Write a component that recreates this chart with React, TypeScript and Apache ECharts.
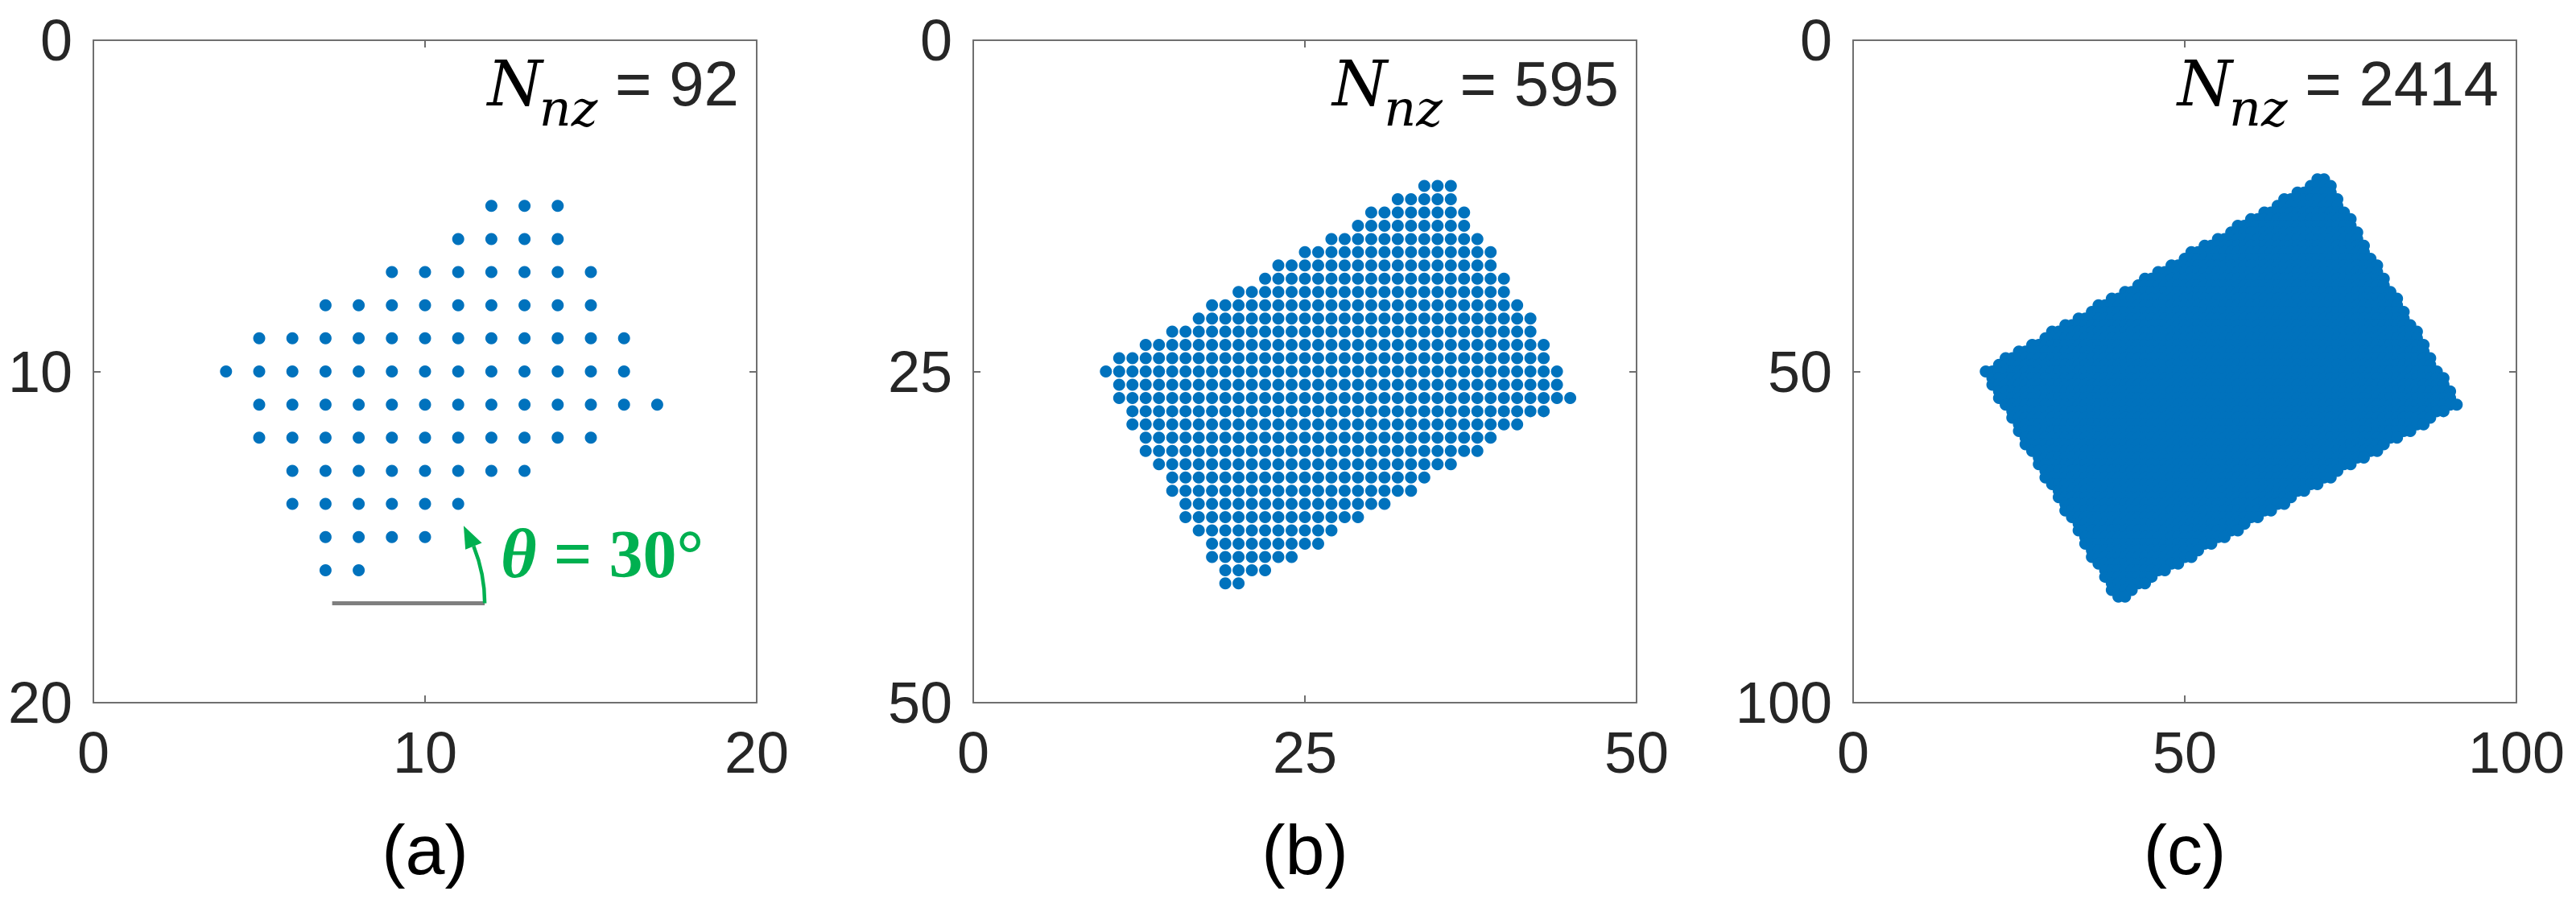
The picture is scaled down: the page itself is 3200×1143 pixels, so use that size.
import React, { useEffect, useRef } from 'react';
import * as echarts from 'echarts';

// ---------------- data ----------------
// Panel (a): rows of the 20x20 pattern and the first/last nonzero column in each row
const rowsA = [5, 6, 7, 8, 9, 10, 11, 12, 13, 14, 15, 16];
const startA = [12, 11, 9, 7, 5, 4, 5, 5, 6, 6, 7, 7];
const endA = [14, 14, 15, 15, 16, 16, 17, 15, 13, 11, 10, 8];

// Panel (b): 50x50 pattern
const rowsB = [11, 12, 13, 14, 15, 16, 17, 18, 19, 20, 21, 22, 23, 24, 25, 26, 27, 28, 29, 30, 31, 32, 33, 34, 35, 36, 37, 38, 39, 40, 41];
const startB = [34, 32, 30, 29, 27, 25, 23, 22, 20, 18, 17, 15, 13, 11, 10, 11, 11, 12, 12, 13, 13, 14, 15, 15, 16, 16, 17, 18, 18, 19, 19];
const endB = [36, 36, 37, 37, 38, 39, 39, 40, 40, 41, 42, 42, 43, 43, 44, 44, 45, 43, 41, 39, 38, 36, 34, 33, 31, 29, 27, 26, 24, 22, 20];

// Panel (c): 100x100 pattern
const rowsC = [21, 22, 23, 24, 25, 26, 27, 28, 29, 30, 31, 32, 33, 34, 35, 36, 37, 38, 39, 40, 41, 42, 43, 44, 45, 46, 47, 48, 49, 50, 51, 52, 53, 54, 55, 56, 57, 58, 59, 60, 61, 62, 63, 64, 65, 66, 67, 68, 69, 70, 71, 72, 73, 74, 75, 76, 77, 78, 79, 80, 81, 82, 83, 84];
const startC = [70, 69, 67, 65, 64, 62, 60, 58, 57, 55, 53, 51, 50, 48, 46, 44, 43, 41, 39, 37, 36, 34, 32, 30, 29, 27, 25, 23, 22, 20, 21, 21, 22, 22, 23, 24, 24, 25, 25, 26, 26, 27, 28, 28, 29, 29, 30, 31, 31, 32, 32, 33, 34, 34, 35, 35, 36, 36, 37, 38, 38, 39, 39, 40];
const endC = [71, 72, 72, 73, 73, 74, 75, 75, 76, 76, 77, 77, 78, 79, 79, 80, 80, 81, 82, 82, 83, 83, 84, 85, 85, 86, 86, 87, 87, 88, 89, 89, 90, 90, 91, 89, 87, 86, 84, 82, 80, 79, 77, 75, 73, 72, 70, 68, 66, 65, 63, 61, 59, 58, 56, 54, 52, 51, 49, 47, 45, 44, 42, 41];

const axisMax = [20, 50, 100];
const axisInterval = [10, 25, 50];
const panelLabels = ['(a)', '(b)', '(c)'];
const nnzLabels = ['92', '595', '2414'];

// angle annotation in panel (a) (data coordinates)
const refLineX = [7.2, 11.8];
const refLineY = 17;
const angleText = '30°';

// ---------------- layout ----------------
const W = 3200;
const H = 1143;
const gridLefts = [116, 1209, 2302];
const gridTop = 50;
const gridW = 824;
const gridH = 823;
const BLUE = '#0072BD';
const GREEN = '#00B050';
const AXIS = '#6f6f6f';
const TXT = '#262626';

function expand(rows: number[], s: number[], e: number[]) {
  const out: number[][] = [];
  rows.forEach((r, i) => {
    for (let x = s[i]; x <= e[i]; x++) out.push([x, r]);
  });
  return out;
}

function measure(font: string, s: string) {
  const ctx = document.createElement('canvas').getContext('2d') as CanvasRenderingContext2D;
  ctx.font = font;
  return ctx.measureText(s).width;
}

export default function App() {
  const ref = useRef<HTMLDivElement>(null);

  useEffect(() => {
    if (!ref.current) return;
    const chart = echarts.init(ref.current, null, { renderer: 'svg', width: W, height: H });
    const pts = [expand(rowsA, startA, endA), expand(rowsB, startB, endB), expand(rowsC, startC, endC)];

    const lineStyle = { color: AXIS, width: 2 };
    const grids: any[] = [];
    const xAxes: any[] = [];
    const yAxes: any[] = [];
    const series: any[] = [];
    const graphics: any[] = [];

    const numFont = '78px "Liberation Sans"';
    const nFont = 'italic 78px "DejaVu Serif"';
    const subFont = 'italic 62px "DejaVu Serif"';

    for (let i = 0; i < 3; i++) {
      grids.push({ left: gridLefts[i], top: gridTop, width: gridW, height: gridH, containLabel: false, outerBoundsMode: 'none' });
      const common = {
        type: 'value', gridIndex: i, min: 0, max: axisMax[i], interval: axisInterval[i],
        axisLine: { show: true, onZero: false, lineStyle },
        axisTick: { show: true, inside: true, length: 9, lineStyle },
        splitLine: { show: false },
      };
      xAxes.push({
        ...common, position: 'bottom',
        axisLabel: { show: true, margin: 26, fontSize: 72, color: TXT, fontFamily: 'Liberation Sans', showMinLabel: true, showMaxLabel: true },
        name: panelLabels[i], nameLocation: 'middle', nameGap: 138,
        nameTextStyle: { fontSize: 88, color: '#000', fontFamily: 'Liberation Sans' },
      });
      xAxes.push({ ...common, position: 'top', axisLabel: { show: false } });
      yAxes.push({
        ...common, position: 'left', inverse: true,
        axisLabel: { show: true, margin: 26, fontSize: 72, color: TXT, fontFamily: 'Liberation Sans', showMinLabel: true, showMaxLabel: true },
      });
      yAxes.push({ ...common, position: 'right', inverse: true, axisLabel: { show: false } });

      series.push({
        type: 'scatter', xAxisIndex: 2 * i, yAxisIndex: 2 * i, data: pts[i],
        symbol: 'circle', symbolSize: 15, itemStyle: { color: BLUE, opacity: 1 },
        silent: true, progressive: 0, large: false,
      });

      // N_nz = ... label
      const R = gridLefts[i] + gridW - 22;
      const numStr = ' = ' + nnzLabels[i];
      const wNum = measure(numFont, numStr);
      const wSub = measure(subFont, 'nz');
      const subRight = R - wNum;
      const subLeft = subRight - wSub;
      graphics.push({
        type: 'text', x: R, y: 104, z: 100,
        style: { text: numStr, font: numFont, fill: TXT, align: 'right', verticalAlign: 'middle', textAlign: 'right', textVerticalAlign: 'middle' },
      });
      graphics.push({
        type: 'text', x: subRight, y: 134, z: 100,
        style: { text: 'nz', font: subFont, fill: '#000', align: 'right', verticalAlign: 'middle', textAlign: 'right', textVerticalAlign: 'middle' },
      });
      graphics.push({
        type: 'text', x: subLeft + 4, y: 104, z: 100,
        style: { text: 'N', font: nFont, fill: '#000', align: 'right', verticalAlign: 'middle', textAlign: 'right', textVerticalAlign: 'middle' },
      });
    }

    // reference line in panel (a)
    series.push({
      type: 'line', xAxisIndex: 0, yAxisIndex: 0,
      data: [[refLineX[0], refLineY], [refLineX[1], refLineY]],
      symbol: 'none', lineStyle: { color: '#7f7f7f', width: 5 }, silent: true, z: 3,
    });

    // arc arrow (annotation geometry in pixels, from the panel (a) scale)
    const sx = gridW / axisMax[0];
    const sy = gridH / axisMax[0];
    const cx = gridLefts[0] + refLineX[0] * sx;
    const cy = gridTop + refLineY * sy;
    const r = (refLineX[1] - refLineX[0]) * sx;
    const deg = Math.PI / 180;
    const tipA = -30.5 * deg;
    const baseA = -22 * deg;
    graphics.push({
      type: 'arc', z: 100,
      shape: { cx, cy, r, startAngle: baseA, endAngle: 0, clockwise: true },
      style: { stroke: GREEN, lineWidth: 4.5, fill: 'none' },
    });
    const tip = [cx + r * Math.cos(tipA), cy + r * Math.sin(tipA)];
    const bc = [cx + r * Math.cos(baseA), cy + r * Math.sin(baseA)];
    const ux = Math.cos(baseA), uy = Math.sin(baseA);
    graphics.push({
      type: 'polygon', z: 101,
      shape: { points: [tip, [bc[0] + 11 * ux, bc[1] + 11 * uy], [bc[0] - 11 * ux, bc[1] - 11 * uy]] },
      style: { fill: GREEN },
    });
    graphics.push({
      type: 'text', x: 622, y: 688, z: 100,
      style: {
        text: '{a|θ}{b| = ' + angleText + '}',
        align: 'left', verticalAlign: 'middle', textAlign: 'left', textVerticalAlign: 'middle',
        rich: {
          a: { fontFamily: 'Liberation Serif', fontStyle: 'italic', fontWeight: 'bold', fontSize: 86, fill: GREEN, color: GREEN },
          b: { fontFamily: 'Liberation Serif', fontWeight: 'bold', fontSize: 84, fill: GREEN, color: GREEN },
        },
      },
    });

    chart.setOption({
      animation: false,
      backgroundColor: '#ffffff',
      grid: grids,
      xAxis: xAxes,
      yAxis: yAxes,
      series,
      graphic: graphics,
    });

    return () => chart.dispose();
  }, []);

  return <div ref={ref} style={{ position: 'fixed', left: 0, top: 0, width: W, height: H, background: '#fff' }} />;
}
